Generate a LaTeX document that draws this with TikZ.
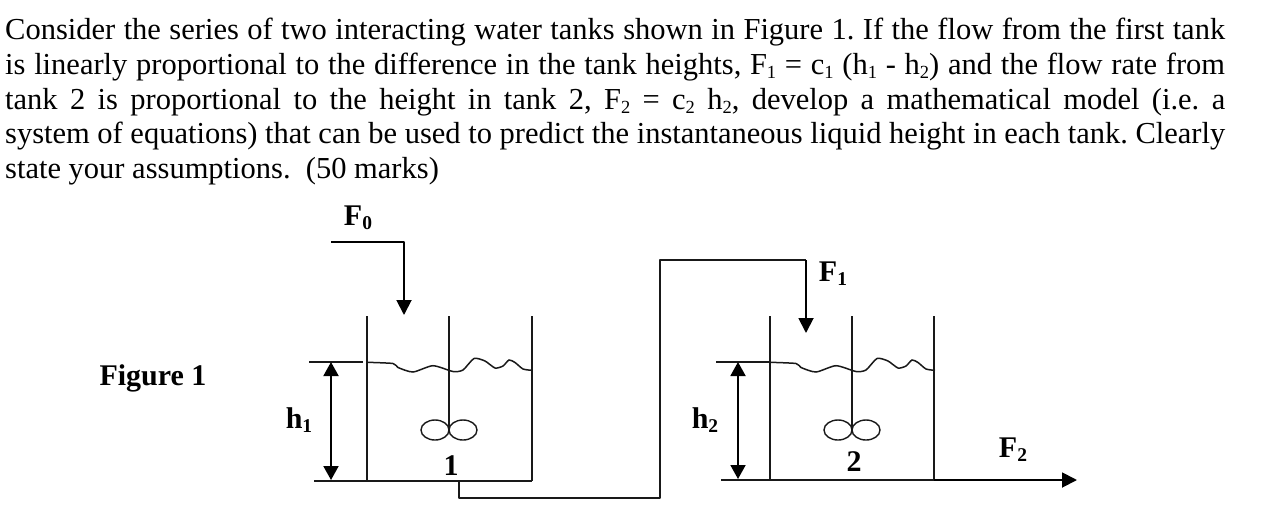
\documentclass[tikz,border=0pt]{standalone}
\usepackage{fontspec}
\setmainfont{Liberation Serif}
\usetikzlibrary{arrows.meta,shapes.geometric}
\newcommand{\sbs}[1]{\raisebox{-0.14em}{\fontsize{18.5}{18.5}\selectfont #1}}
\newcommand{\bsbs}[1]{\raisebox{-0.14em}{\fontsize{19.5}{19.5}\selectfont\bfseries #1}}
\tikzset{
  x=1pt,y=-1pt,
  wall/.style={line width=1.6pt,draw=black!90},
  thinwall/.style={line width=1.4pt,draw=black!90},
  pipe/.style={line width=1.6pt,draw=black!90,line join=round},
  flow/.style={line width=1.9pt,draw=black,line join=round,-{Triangle[length=15pt,width=15pt]}},
  dim/.style={line width=1.9pt,draw=black,{Triangle[length=14pt,width=15pt]}-{Triangle[length=14pt,width=15pt]}},
  lbl/.style={inner sep=0pt,anchor=base,font=\fontsize{30}{31}\selectfont\bfseries},
  blade/.style={draw=black!90,line width=1.4pt,fill=none,ellipse,minimum width=28pt,minimum height=20pt,inner sep=0pt},
  wave/.style={line width=1.5pt,draw=black!90,smooth,tension=0.4}
}
\begin{document}
\begin{tikzpicture}
\useasboundingbox (0,0) rectangle (1286,504);
\fill[white] (0,0) rectangle (1286,504);
\node[anchor=north west,inner sep=0pt,text width=1220pt,align=justify,font=\fontsize{30.5}{34.7}\selectfont] (para) at (5,18) {\frenchspacing Consider the series of two interacting water tanks shown in Figure 1. If the flow from the first tank\linebreak
is linearly proportional to the difference in the tank heights, F\sbs{1} = c\sbs{1} (h\sbs{1} - h\sbs{2}) and the flow rate from\linebreak
tank 2 is proportional to the height in tank 2, F\sbs{2} = c\sbs{2} h\sbs{2}, develop a mathematical model (i.e. a\linebreak
system of equations) that can be used to predict the instantaneous liquid height in each tank. Clearly\linebreak
state your assumptions.\ \ (50 marks)\par};
\node[lbl] (fig) at (153,385) {Figure 1};
\node[lbl] (F0) at (358,225) {F\bsbs{0}};
\node[lbl] (F1) at (833,281) {F\bsbs{1}};
\node[lbl] (F2) at (1013,457) {F\bsbs{2}};
\node[lbl] (h1) at (299,428) {h\bsbs{1}};
\node[lbl] (h2) at (705,428) {h\bsbs{2}};
\node[lbl] (n1) at (451,475) {1};
\node[lbl] (n2) at (854,471) {2};
% tank 1
\coordinate (t1tl) at (367,316); \coordinate (t1bl) at (367,481);
\coordinate (t1tr) at (532,316); \coordinate (t1br) at (532,481);
\coordinate (s1t) at (449,316); \coordinate (s1b) at (449,430);
\coordinate (b1l) at (314,481);
\coordinate (l1l) at (309,362); \coordinate (l1r) at (363,362);
\coordinate (d1t) at (331,362); \coordinate (d1b) at (331,480);
\draw[wall] (t1tl) -- (t1bl);
\draw[wall] (t1tr) -- (t1br);
\draw[thinwall] (s1t) -- (s1b);
\draw[wall] (b1l) -- (t1br);
\draw[wall] (l1l) -- (l1r);
\draw[dim] (d1t) -- (d1b);
\node[blade] (b11) at (435,430) {};
\node[blade] (b12) at (463,430) {};
% tank 2
\coordinate (t2tl) at (770,316); \coordinate (t2bl) at (770,480);
\coordinate (t2tr) at (934,316); \coordinate (t2br) at (934,480);
\coordinate (s2t) at (852,316); \coordinate (s2b) at (852,430);
\coordinate (b2l) at (721,480);
\coordinate (l2l) at (716,362); \coordinate (l2r) at (770,362);
\coordinate (d2t) at (738,362); \coordinate (d2b) at (738,479);
\draw[wall] (t2tl) -- (t2bl);
\draw[wall] (t2tr) -- (t2br);
\draw[thinwall] (s2t) -- (s2b);
\draw[wall] (b2l) -- (t2br);
\draw[wall] (l2l) -- (l2r);
\draw[dim] (d2t) -- (d2b);
\node[blade] (b21) at (838,430) {};
\node[blade] (b22) at (866,430) {};
% liquid surfaces
\foreach \dx in {0,403}{
\draw[wave] plot coordinates {({367+\dx},362.3) ({393+\dx},363.5) ({398+\dx},367.5) ({413+\dx},372) ({433+\dx},365.7) ({453+\dx},371.5) ({463+\dx},370) ({474+\dx},358.5) ({485+\dx},361) ({495+\dx},368) ({503+\dx},366) ({509+\dx},360) ({515+\dx},362.5) ({523+\dx},369) ({532+\dx},370.3)};
}
% flows
\coordinate (f0s) at (331,242); \coordinate (f0c) at (404,242); \coordinate (f0e) at (404,315);
\draw[flow] (f0s) -- (f0c) -- (f0e);
\coordinate (p1) at (459,481); \coordinate (p2) at (459,498); \coordinate (p3) at (660,498);
\coordinate (p4) at (660,260); \coordinate (p5) at (806,260); \coordinate (p6) at (806,333);
\draw[pipe] (p1) -- (p2) -- (p3) -- (p4) -- (p5);
\draw[flow] (p5) -- (p6);
\coordinate (o2) at (1077,480);
\draw[flow] (t2br) -- (o2);
\end{tikzpicture}
\end{document}
